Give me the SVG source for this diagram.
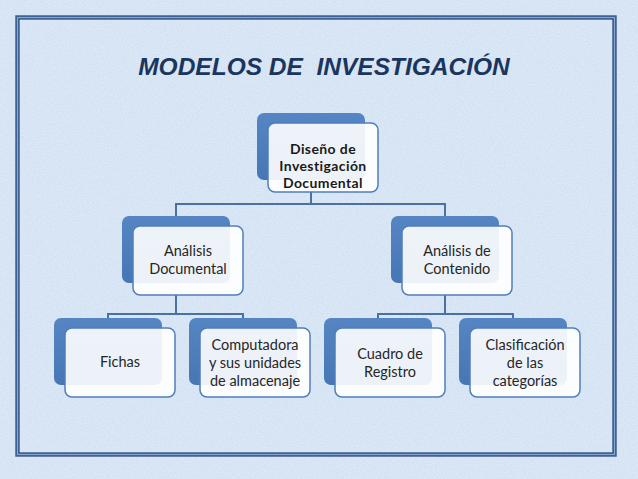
<svg xmlns="http://www.w3.org/2000/svg" width="638" height="479" viewBox="0 0 638 479">
  <defs>
    <filter id="tex" x="0" y="0" width="100%" height="100%">
      <feTurbulence type="fractalNoise" baseFrequency="0.9" numOctaves="2" seed="3" result="n"/>
      <feColorMatrix in="n" type="matrix" values="0 0 0 0 1  0 0 0 0 1  0 0 0 0 1  0 0 0 -1.6 1.05"/>
    </filter>
    <linearGradient id="backGrad" x1="0" y1="0" x2="0" y2="1">
      <stop offset="0" stop-color="#5585c2"/>
      <stop offset="1" stop-color="#4676b3"/>
    </linearGradient>
    <style>
      .back { fill: url(#backGrad); }
      .front { fill: #ffffff; fill-opacity: 0.9; stroke: #4f7fba; stroke-width: 1.5; }
      .conn { fill: none; stroke: #4a70a6; stroke-width: 2; }
      .lbl { font-family: Lato, "Open Sans", "DejaVu Sans", sans-serif; font-size: 14.5px; fill: #262626; text-anchor: middle; }
      .root { font-weight: bold; font-size: 14px; letter-spacing: 0.4px; fill: #1a1a1a; }
      .title { font-family: "Liberation Sans", Arial, sans-serif; font-weight: bold; font-style: italic; font-size: 24.5px; fill: #1a365e; text-anchor: middle; }
    </style>
  </defs>

  <!-- background -->
  <rect x="0" y="0" width="638" height="479" fill="#d3e2f3"/>
  <rect x="0" y="0" width="638" height="479" filter="url(#tex)" opacity="0.4"/>

  <!-- frame -->
  <rect x="17.5" y="17.5" width="597" height="437" fill="none" stroke="#3f6294" stroke-width="4.5"/>
  <rect x="17.5" y="17.5" width="597" height="437" fill="none" stroke="#8aa6cc" stroke-width="1"/>

  <!-- title -->
  <text class="title" x="324" y="75" xml:space="preserve">MODELOS DE  INVESTIGACIÓN</text>

  <!-- connectors -->
  <g id="connectors">
    <path class="conn" d="M311,192 V204 M176,216 V204 H445 V216"/>
    <path class="conn" d="M176,295 V314 M108,318 V314 H243 V318"/>
    <path class="conn" d="M445,295 V314 M378,318 V314 H513 V318"/>
  </g>

  <g id="root">
    <rect class="back" x="257" y="113" width="108" height="67" rx="7"/>
    <rect class="front" x="268" y="123" width="110" height="69" rx="7"/>
    <text class="lbl root" x="323" y="154">Diseño de</text>
    <text class="lbl root" x="323" y="171">Investigación</text>
    <text class="lbl root" x="323" y="188">Documental</text>
  </g>

  <g id="analisis-documental">
    <rect class="back" x="122" y="216" width="108" height="67" rx="7"/>
    <rect class="front" x="133" y="226" width="110" height="69" rx="7"/>
    <text class="lbl" x="188" y="256">Análisis</text>
    <text class="lbl" x="188" y="274">Documental</text>
  </g>

  <g id="analisis-contenido">
    <rect class="back" x="391" y="216" width="108" height="67" rx="7"/>
    <rect class="front" x="402" y="226" width="110" height="69" rx="7"/>
    <text class="lbl" x="457" y="256">Análisis de</text>
    <text class="lbl" x="457" y="274">Contenido</text>
  </g>

  <g id="fichas">
    <rect class="back" x="54" y="318" width="108" height="67" rx="7"/>
    <rect class="front" x="65" y="328" width="110" height="69" rx="7"/>
    <text class="lbl" x="120" y="367">Fichas</text>
  </g>

  <g id="computadora">
    <rect class="back" x="189" y="318" width="108" height="67" rx="7"/>
    <rect class="front" x="200" y="328" width="110" height="69" rx="7"/>
    <text class="lbl" x="255" y="350">Computadora</text>
    <text class="lbl" x="255" y="368">y sus unidades</text>
    <text class="lbl" x="255" y="386">de almacenaje</text>
  </g>

  <g id="cuadro-registro">
    <rect class="back" x="324" y="318" width="108" height="67" rx="7"/>
    <rect class="front" x="335" y="328" width="110" height="69" rx="7"/>
    <text class="lbl" x="390" y="359">Cuadro de</text>
    <text class="lbl" x="390" y="377">Registro</text>
  </g>

  <g id="clasificacion">
    <rect class="back" x="459" y="318" width="108" height="67" rx="7"/>
    <rect class="front" x="470" y="328" width="110" height="69" rx="7"/>
    <text class="lbl" x="525" y="350">Clasificación</text>
    <text class="lbl" x="525" y="368">de las</text>
    <text class="lbl" x="525" y="386">categorías</text>
  </g>
</svg>
